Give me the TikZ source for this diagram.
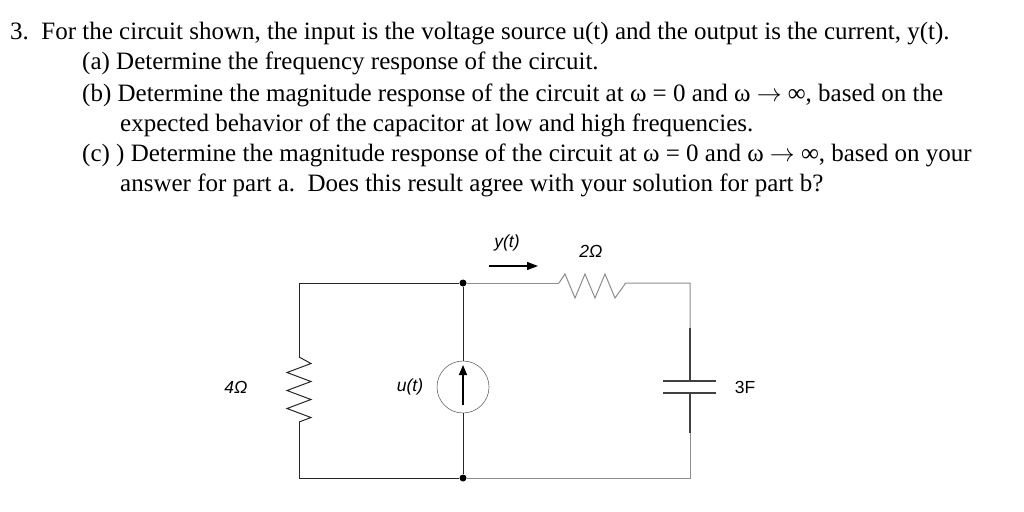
\documentclass[tikz,border=0pt]{standalone}
\usepackage{fontspec}
\setmainfont{Liberation Serif}
\newfontfamily\sff{Liberation Sans}
\usetikzlibrary{arrows.meta}
\begin{document}
\begin{tikzpicture}[x=1pt,y=-1pt,
  txt/.style={anchor=base west,inner sep=0,font=\fontsize{25}{25}\selectfont},
  lbl/.style={inner sep=0,font=\sff\itshape\fontsize{17.5}{18}\selectfont},
  w/.style={line width=1pt,black!85},
  wl/.style={line width=1pt,black!45},
  dot/.style={circle,fill=black,inner sep=0,minimum size=7pt}]
\useasboundingbox (0,0) rectangle (1024,511);
\node[txt] (l1) at (10,40) {3.\ \ For the circuit shown, the input is the voltage source u(t) and the output is the current, y(t).};
\node[txt] (l2) at (82,70) {(a) Determine the frequency response of the circuit.};
\node[txt] (l3) at (82,101) {(b) Determine the magnitude response of the circuit at ω = 0 and ω $\rightarrow$ ∞, based on the};
\node[txt] (l4) at (120,131) {expected behavior of the capacitor at low and high frequencies.};
\node[txt] (l5) at (82,161) {(c) ) Determine the magnitude response of the circuit at ω = 0 and ω $\rightarrow$ ∞, based on your};
\node[txt] (l6) at (120,191) {answer for part a.\ \ Does this result agree with your solution for part b?};
% nodes
\coordinate (tl) at (299,283);
\coordinate (bl) at (299,478);
\node[dot] (tm) at (463,283) {};
\node[dot] (bm) at (463,478) {};
\coordinate (tr) at (690,283);
\coordinate (br) at (690,478);
\node[circle,draw,black!60,line width=0.6pt,minimum size=52pt,inner sep=0] (src) at (463,387) {};
\coordinate (ra) at (559,283);
\coordinate (rb) at (625,283);
\coordinate (la) at (299,357);
\coordinate (lb) at (299,422);
\coordinate (ct) at (690,328);
\coordinate (cb) at (690,433);
% wires
\draw[w] (la) -- (tl) -- (tm) -- (src);
\draw[w] (src) -- (bm) -- (bl) -- (lb);
\draw[w] (la) -- ++(12,6.5) -- ++(-24,9) -- ++(24,9) -- ++(-24,9) -- ++(24,9) -- ++(-24,9) -- ++(24,9) -- (lb);
\draw[wl] (tm) -- (ra);
\draw[wl] (ra) -- ++(6,-9) -- ++(10,24) -- ++(10,-24) -- ++(10,24) -- ++(10,-24) -- ++(10,24) -- ++(10,-14) -- (rb) -- (tr) -- (ct);
\draw[wl] (cb) -- (br) -- (bm);
\draw[line width=1.3pt,black!75] (ct) -- (690,381) (663,381) -- (716,381) (663,393) -- (716,393) (690,393) -- (cb);
\draw[line width=1.3pt,-{Triangle[length=10pt,width=8pt]}] (463,405) -- (463,365);
\draw[line width=1.2pt,-{Triangle[length=11pt,width=8pt]}] (489,266) -- (538,266);
\node[lbl] (ly) at (507,243) {y(t)};
\node[lbl] (l2o) at (591,251) {2Ω};
\node[lbl] (lu) at (410,387) {u(t)};
\node[lbl,font=\sff\fontsize{17.5}{18}\selectfont] (l3f) at (745,387) {3F};
\node[lbl] (l4o) at (236,387) {4Ω};
\end{tikzpicture}
\end{document}
